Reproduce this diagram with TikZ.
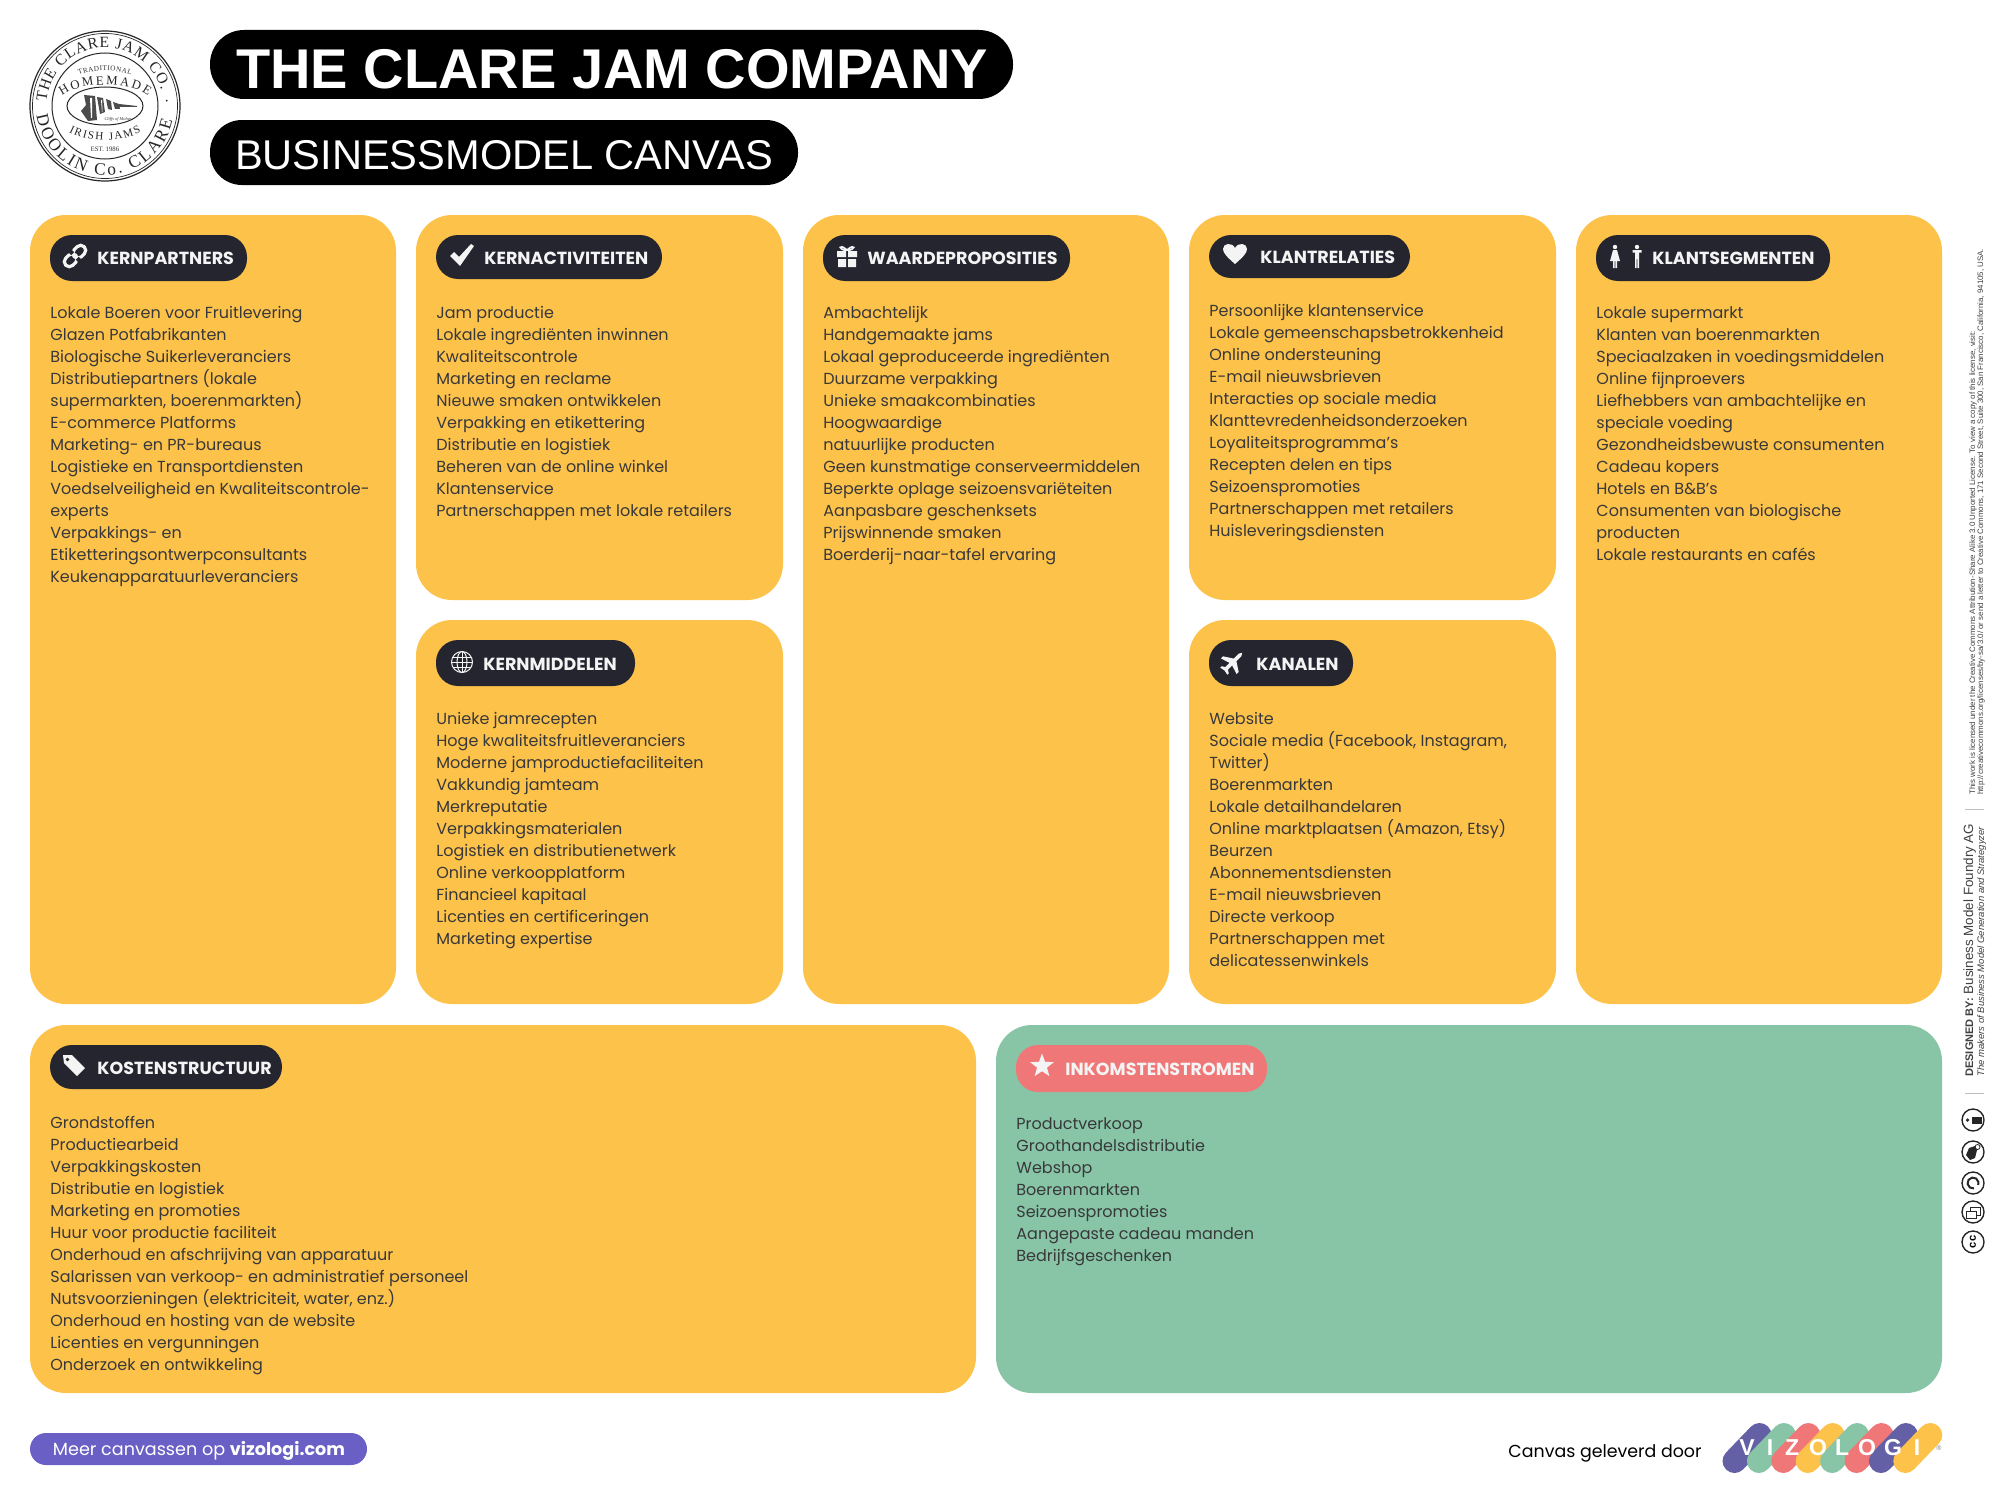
\documentclass[tikz,border=0pt]{standalone}
\usepackage{fontspec}
\setmainfont{Poppins}
\newfontfamily\headfont{Liberation Sans}
\newfontfamily\sealfont{Liberation Serif}
\usetikzlibrary{positioning, shapes.geometric, decorations.text}

\definecolor{cardyellow}{HTML}{FDC24A}
\definecolor{cardgreen}{HTML}{88C5A6}
\definecolor{pilldark}{HTML}{252530}
\definecolor{pillred}{HTML}{F07777}
\definecolor{pillpurple}{HTML}{6A5FC4}
\definecolor{bodygrey}{HTML}{38383A}
\definecolor{logopurple}{HTML}{6460A6}
\definecolor{iconwhite}{HTML}{F4F4F4}

% small white icons, drawn round their centre, one unit is one pixel
\tikzset{
    pics/linkicon/.style={code={
        \draw[iconwhite, line width=1.6pt, rounded corners=2.4pt, rotate=45] (-13,-5) rectangle (1,5);
        \draw[iconwhite, line width=1.6pt, rounded corners=2.4pt, rotate=45] (-1,-5) rectangle (13,5);
        \draw[pilldark, line width=1.8pt, rotate=45] (-2,-5) -- (2,-5) (-2,5) -- (2,5);
    }},
    pics/checkicon/.style={code={
        \fill[iconwhite] (-12,1) -- (-8,-3) -- (-3,2) -- (9,-11) -- (12,-9) -- (-2,11) -- cycle;
    }},
    pics/gifticon/.style={code={
        \fill[iconwhite] (-10,-5) rectangle (-1,1) (1,-5) rectangle (10,1);
        \fill[iconwhite] (-9,3) rectangle (-1,11) (1,3) rectangle (9,11);
        \draw[iconwhite, line width=0.8pt] (0,-6) .. controls (-9,-14) and (-9,-5) .. (0,-6);
        \draw[iconwhite, line width=0.8pt] (0,-6) .. controls (9,-14) and (9,-5) .. (0,-6);
    }},
    pics/hearticon/.style={code={
        \fill[iconwhite] (0,10) .. controls (-8,3) and (-12,-1) .. (-12,-5)
            .. controls (-12,-11) and (-3,-12) .. (0,-6)
            .. controls (3,-12) and (12,-11) .. (12,-5)
            .. controls (12,-1) and (8,3) .. (0,10) -- cycle;
    }},
    pics/womanicon/.style={code={
        \fill[iconwhite] (0,-9) circle[radius=2.2];
        \fill[iconwhite] (-2,-6) -- (2,-6) -- (5,5) -- (2,5) -- (2,12) -- (0.4,12) -- (0.4,5)
            -- (-0.4,5) -- (-0.4,12) -- (-2,12) -- (-2,5) -- (-5,5) -- cycle;
    }},
    pics/manicon/.style={code={
        \fill[iconwhite] (0,-9) circle[radius=2.2];
        \fill[iconwhite] (-4.5,-6) -- (4.5,-6) -- (4.5,-3.5) -- (2,-3.5) -- (2,12) -- (0.4,12) -- (0.4,3)
            -- (-0.4,3) -- (-0.4,12) -- (-2,12) -- (-2,-3.5) -- (-4.5,-3.5) -- cycle;
    }},
    pics/globeicon/.style={code={
        \draw[iconwhite, line width=0.5pt] (0,0) circle[radius=10.5];
        \draw[iconwhite, line width=0.5pt] (0,0) ellipse[x radius=5, y radius=10.5];
        \draw[iconwhite, line width=0.5pt] (-10.5,0) -- (10.5,0) (-9,-5) -- (9,-5) (-9,5) -- (9,5) (0,-10.5) -- (0,10.5);
    }},
    pics/planeicon/.style={code={
        \fill[iconwhite, rotate=45] (13,0) -- (10,-1.8) -- (3,-1.8) -- (-3,-11) -- (-6,-11) -- (-3,-1.8)
            -- (-9,-1.8) -- (-11,-5) -- (-13,-5) -- (-12,0) -- (-13,5) -- (-11,5) -- (-9,1.8)
            -- (-3,1.8) -- (-6,11) -- (-3,11) -- (3,1.8) -- (10,1.8) -- cycle;
    }},
    pics/tagicon/.style={code={
        \fill[iconwhite] (-11,-10) -- (-2,-10) -- (11,3) -- (3,11) -- (-10,-2) -- cycle;
        \fill[pilldark] (-6.5,-5.5) circle[radius=1.8];
    }},
    pics/staricon/.style={code={
        \fill[iconwhite] (-90:12.5) -- (-54:5.2) -- (-18:12.5) -- (18:5.2) -- (54:12.5) -- (90:5.2)
            -- (126:12.5) -- (162:5.2) -- (198:12.5) -- (234:5.2) -- cycle;
    }},
}

\begin{document}
\begin{tikzpicture}[
    x=0.5pt, y=-0.5pt,
    card/.style={fill=cardyellow, rounded corners=18pt},
    greencard/.style={fill=cardgreen, rounded corners=18pt},
    pill/.style={fill=pilldark, rounded corners=11pt},
    redpill/.style={fill=pillred, rounded corners=11pt},
    headpill/.style={fill=black, rounded corners=16pt},
    cardlabel/.style={anchor=west, inner sep=0pt, text=iconwhite, font=\fontsize{8.75}{10}\selectfont\bfseries},
    cardtext/.style={anchor=north west, inner sep=0pt, align=left, text=bodygrey, font=\fontsize{8}{11}\selectfont},
    sidetext/.style={rotate=90, anchor=base west, inner sep=0pt, text=black!75, font=\headfont\fontsize{3.95}{4}\selectfont},
    ccring/.style={circle, draw=black!85, line width=0.7pt, minimum size=11pt, inner sep=0pt},
    ]
    \useasboundingbox (0,0) rectangle (2000,1504);

    % Seal
    \begin{scope}[shift={(105,106)}, y=0.5pt]
        \draw[black!85, line width=0.6pt] (0,0) circle[radius=75];
        \draw[black!85, line width=0.35pt] (0,0) circle[radius=72.5];
        \draw[black!85, line width=0.5pt] (0,0) circle[radius=53];
        \draw[black!85, line width=0.5pt] (0,0) ellipse[x radius=38, y radius=19];
        \path[decorate, decoration={text along path, text align={fit to path},
            text={|\sealfont\fontsize{7.8}{9}\selectfont\color{black!85}|THE CLARE JAM CO.}}]
            (176:58.5) arc (176:16:58.5);
        \fill[black!85] (5:62) circle[radius=1];
        \path[decorate, decoration={text along path, text align={fit to path},
            text={|\sealfont\fontsize{8.6}{9}\selectfont\color{black!85}|DOOLIN Co. CLARE}}]
            (188:69) arc (188:348:69);
        \path[decorate, decoration={text along path, text align={fit to path},
            text={|\sealfont\fontsize{3.6}{4}\selectfont\color{black!80}|TRADITIONAL}}]
            (-26,31) .. controls (-10,37) and (10,37) .. (26,31);
        \path[decorate, decoration={text along path, text align={fit to path},
            text={|\sealfont\fontsize{6.4}{7}\selectfont\color{black!85}|HOMEMADE}}]
            (-43,10) .. controls (-25,25) and (25,25) .. (43,10);
        \path[decorate, decoration={text along path, text align={fit to path},
            text={|\sealfont\fontsize{5.6}{6}\selectfont\color{black!85}|IRISH JAMS}}]
            (-36,-26) .. controls (-15,-37) and (15,-37) .. (36,-26);
        \node[inner sep=0pt, text=black!80, font=\sealfont\fontsize{3.4}{4}\selectfont] (est) at (0,-43) {EST. 1986};
        % cliffs
        \fill[black!70] (-21,11) -- (-10,10) -- (-8,-14) -- (-17,-15) -- (-24,-5) -- (-19,1) -- cycle;
        \fill[black!70] (-8,9) -- (-2,8) -- (0,-6) -- (-5,-8) -- cycle;
        \fill[black!70] (1,7) -- (6,5) -- (7,-4) -- (3,-3) -- cycle;
        \fill[black!70] (8,4) -- (14,2) -- (15,-3) -- (10,-3) -- cycle;
        \fill[black!70] (14,2) -- (32,0) -- (32,-1) -- (14,-1) -- cycle;
        \fill[white] (-15,8) -- (-14,-12) -- (-13,-12) -- (-13,8) -- cycle (-4,6) -- (-3,-6) -- (-2.5,-6) -- (-3,6) -- cycle;
        \node[inner sep=0pt, text=black!80, font=\sealfont\itshape\fontsize{2.2}{3}\selectfont] (moher) at (13,-13) {Cliffs of Moher};
    \end{scope}

    % Header
    \fill[headpill, rounded corners=17pt] (210,30) rectangle (1013,99);
    \node[inner sep=0pt, text=white, font=\headfont\bfseries\fontsize{28}{30}\selectfont] (title) at (612,69) {THE CLARE JAM COMPANY};
    \fill[headpill] (210,120) rectangle (798,185);
    \node[inner sep=0pt, text=white, font=\headfont\fontsize{20.8}{22}\selectfont] (subtitle) at (504,155) {BUSINESSMODEL CANVAS};

    % Cards
    \fill[card] (30,215) rectangle (396,1004);
    \fill[card] (416,215) rectangle (783,600);
    \fill[card] (416,620) rectangle (783,1004);
    \fill[card] (803,215) rectangle (1169,1004);
    \fill[card] (1189,215) rectangle (1556,600);
    \fill[card] (1189,620) rectangle (1556,1004);
    \fill[card] (1576,215) rectangle (1942,1004);
    \fill[card] (30,1025) rectangle (976,1393);
    \fill[greencard] (996,1025) rectangle (1942,1393);

    % Kernpartners
    \fill[pill] (50,235) rectangle (247,281);
    \pic at (75,256) {linkicon};
    \node[cardlabel] (kernpartners) at (97,258.5) {KERNPARTNERS};
    \node[cardtext] (kernpartnerstext) at (50,306) {Lokale Boeren voor Fruitlevering\\Glazen Potfabrikanten\\Biologische Suikerleveranciers\\Distributiepartners (lokale\\supermarkten, boerenmarkten)\\E-commerce Platforms\\Marketing- en PR-bureaus\\Logistieke en Transportdiensten\\Voedselveiligheid en Kwaliteitscontrole-\\experts\\Verpakkings- en\\Etiketteringsontwerpconsultants\\Keukenapparatuurleveranciers};

    % Kernactiviteiten
    \fill[pill] (436,235) rectangle (662,279);
    \pic at (462,255) {checkicon};
    \node[cardlabel] (kernactiviteiten) at (484,258.5) {KERNACTIVITEITEN};
    \node[cardtext] (kernactiviteitentext) at (436,305.5) {Jam productie\\Lokale ingrediënten inwinnen\\Kwaliteitscontrole\\Marketing en reclame\\Nieuwe smaken ontwikkelen\\Verpakking en etikettering\\Distributie en logistiek\\Beheren van de online winkel\\Klantenservice\\Partnerschappen met lokale retailers};

    % Kernmiddelen
    \fill[pill] (436,640) rectangle (635,686);
    \pic at (462,662) {globeicon};
    \node[cardlabel] (kernmiddelen) at (483,664) {KERNMIDDELEN};
    \node[cardtext] (kernmiddelentext) at (436,711.5) {Unieke jamrecepten\\Hoge kwaliteitsfruitleveranciers\\Moderne jamproductiefaciliteiten\\Vakkundig jamteam\\Merkreputatie\\Verpakkingsmaterialen\\Logistiek en distributienetwerk\\Online verkoopplatform\\Financieel kapitaal\\Licenties en certificeringen\\Marketing expertise};

    % Waardeproposities
    \fill[pill] (823,235) rectangle (1070,281);
    \pic at (847,256) {gifticon};
    \node[cardlabel] (waardeproposities) at (867,258.5) {WAARDEPROPOSITIES};
    \node[cardtext] (waardepropositiestext) at (823,306) {Ambachtelijk\\Handgemaakte jams\\Lokaal geproduceerde ingrediënten\\Duurzame verpakking\\Unieke smaakcombinaties\\Hoogwaardige\\natuurlijke producten\\Geen kunstmatige conserveermiddelen\\Beperkte oplage seizoensvariëteiten\\Aanpasbare geschenksets\\Prijswinnende smaken\\Boerderij-naar-tafel ervaring};

    % Klantrelaties
    \fill[pill] (1209,235) rectangle (1410,278);
    \pic at (1235,254) {hearticon};
    \node[cardlabel] (klantrelaties) at (1260,257.5) {KLANTRELATIES};
    \node[cardtext] (klantrelatiestext) at (1209,303.5) {Persoonlijke klantenservice\\Lokale gemeenschapsbetrokkenheid\\Online ondersteuning\\E-mail nieuwsbrieven\\Interacties op sociale media\\Klanttevredenheidsonderzoeken\\Loyaliteitsprogramma's\\Recepten delen en tips\\Seizoenspromoties\\Partnerschappen met retailers\\Huisleveringsdiensten};

    % Kanalen
    \fill[pill] (1209,640) rectangle (1353,686);
    \pic at (1233,662) {planeicon};
    \node[cardlabel] (kanalen) at (1256,664) {KANALEN};
    \node[cardtext] (kanalentext) at (1209,711.5) {Website\\Sociale media (Facebook, Instagram,\\Twitter)\\Boerenmarkten\\Lokale detailhandelaren\\Online marktplaatsen (Amazon, Etsy)\\Beurzen\\Abonnementsdiensten\\E-mail nieuwsbrieven\\Directe verkoop\\Partnerschappen met\\delicatessenwinkels};

    % Klantsegmenten
    \fill[pill] (1596,235) rectangle (1830,281);
    \pic at (1615,256) {womanicon};
    \pic at (1637,256) {manicon};
    \node[cardlabel] (klantsegmenten) at (1652,258.5) {KLANTSEGMENTEN};
    \node[cardtext] (klantsegmententext) at (1596,306) {Lokale supermarkt\\Klanten van boerenmarkten\\Speciaalzaken in voedingsmiddelen\\Online fijnproevers\\Liefhebbers van ambachtelijke en\\speciale voeding\\Gezondheidsbewuste consumenten\\Cadeau kopers\\Hotels en B\&B's\\Consumenten van biologische\\producten\\Lokale restaurants en cafés};

    % Kostenstructuur
    \fill[pill] (50,1045) rectangle (282,1089);
    \pic at (74,1065) {tagicon};
    \node[cardlabel] (kostenstructuur) at (97,1068.5) {KOSTENSTRUCTUUR};
    \node[cardtext] (kostenstructuurtext) at (50,1115.5) {Grondstoffen\\Productiearbeid\\Verpakkingskosten\\Distributie en logistiek\\Marketing en promoties\\Huur voor productie faciliteit\\Onderhoud en afschrijving van apparatuur\\Salarissen van verkoop- en administratief personeel\\Nutsvoorzieningen (elektriciteit, water, enz.)\\Onderhoud en hosting van de website\\Licenties en vergunningen\\Onderzoek en ontwikkeling};

    % Inkomstenstromen
    \fill[redpill] (1016,1045) rectangle (1267,1092);
    \pic at (1042,1066) {staricon};
    \node[cardlabel] (inkomstenstromen) at (1065,1069.5) {INKOMSTENSTROMEN};
    \node[cardtext] (inkomstenstromentext) at (1016,1117.5) {Productverkoop\\Groothandelsdistributie\\Webshop\\Boerenmarkten\\Seizoenspromoties\\Aangepaste cadeau manden\\Bedrijfsgeschenken};

    % Side notes
    \node[sidetext] (license1) at (1975,795) {This work is licensed under the Creative Commons Attribution-Share Alike 3.0 Unported License. To view a copy of this license, visit:};
    \node[sidetext] (license2) at (1983,795) {http://creativecommons.org/licenses/by-sa/3.0/ or send a letter to Creative Commons, 171 Second Street, Suite 300, San Francisco, California, 94105, USA.};
    \node[sidetext, font=\headfont\fontsize{6.7}{7}\selectfont] (designed) at (1973,1077) {\textbf{\fontsize{5.5}{7}\selectfont DESIGNED BY:} Business Model Foundry AG};
    \node[sidetext, font=\headfont\itshape\fontsize{4.75}{5}\selectfont] (makers) at (1984,1077) {The makers of Business Model Generation and Strategyzer};
    \draw[black!25, line width=0.3pt] (1965,809) -- (1984,809);
    \draw[black!25, line width=0.3pt] (1965,1093) -- (1984,1093);

    % Licence rings
    \node[ccring] (ringby) at (1973,1120) {};
    \node[ccring] (ringnc) at (1973,1152) {};
    \node[ccring] (ringsa) at (1973,1183) {};
    \node[ccring] (ringnd) at (1973,1212) {};
    \node[ccring, rotate=90, font=\headfont\bfseries\fontsize{5.6}{6}\selectfont] (ringcc) at (1973,1242) {c\kern0.5pt c};
    \fill[black!85] (1972,1116.5) rectangle (1982,1123.5);
    \fill[black!85] (1967.5,1120) circle[radius=1.8];
    \fill[black!85] (1966,1155) -- (1969,1148) -- (1975,1146) -- (1977,1150) -- (1975,1158) -- (1970,1160) -- cycle;
    \draw[black!85, line width=0.4pt] (1977.5,1147) circle[radius=2.5];
    \draw[black!85, line width=1pt] (1973,1183) +(80:5.5) arc[start angle=80, end angle=380, radius=5.5];
    \draw[black!85, line width=0.5pt] (1970,1207) rectangle (1980,1215);
    \draw[black!85, line width=0.5pt, fill=white] (1966,1211) rectangle (1976,1218);

    % Footer
    \fill[pillpurple, rounded corners=8pt] (30,1433) rectangle (367,1465);
    \node[inner sep=0pt, text=white, font=\fontsize{8.8}{11}\selectfont] (footerlink) at (199,1451) {Meer canvassen op \textbf{vizologi.com}};
    \node[anchor=base west, inner sep=0pt, text=black, font=\fontsize{8.7}{11}\selectfont] (delivered) at (1508,1457) {Canvas geleverd door};

    % Vizologi logo
    \foreach \col [count=\i from 0] in {logopurple, cardgreen, pillred, cardyellow, cardgreen, pillred, logopurple, cardyellow}
        \draw[\col, line width=12pt, line cap=round] (1734.5+24.4*\i,1461) -- (1759.5+24.4*\i,1435);
    \foreach \letter/\lx [count=\i] in {V/1747, I/1770, Z/1792, O/1818, L/1842, O/1867, G/1893, I/1917}
        \node[inner sep=0pt, text=white, font=\headfont\bfseries\fontsize{11.5}{12}\selectfont] (logo\i) at (\lx,1448) {\letter};
    \node[inner sep=0pt, text=black!50, font=\headfont\fontsize{3.5}{4}\selectfont] (logoreg) at (1939,1448) {®};
\end{tikzpicture}
\end{document}
